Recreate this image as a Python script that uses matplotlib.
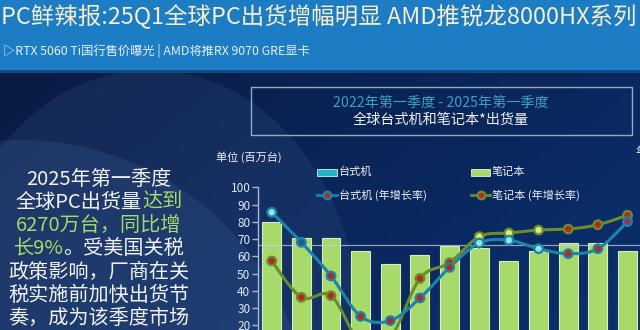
import numpy as np
import matplotlib
matplotlib.use("Agg")
import matplotlib.pyplot as plt
from matplotlib.patches import Rectangle, Ellipse
from matplotlib.lines import Line2D

plt.rcParams['font.family'] = ['Noto Sans CJK SC', 'DejaVu Sans']

# ---------------- data ----------------
quarters = ["22Q1", "22Q2", "22Q3", "22Q4", "23Q1", "23Q2", "23Q3", "23Q4",
            "24Q1", "24Q2", "24Q3", "24Q4", "25Q1"]
notebook = [80.0, 70.4, 70.4, 63.2, 55.7, 60.8, 66.0, 65.0, 57.3, 63.0, 67.9, 67.9, 62.9]
desktop = [16.0, 15.5, 15.5, 15.0, 14.0, 14.5, 15.0, 15.5, 14.0, 14.5, 15.5, 16.0, 15.0]
desktop_growth = [85.5, 68.1, 48.6, 25.2, 22.7, 35.8, 53.6, 67.7, 69.3, 64.4, 61.5, 64.4, 80.1]
notebook_growth = [57.3, 36.2, 37.2, 10.0, 13.0, 47.2, 56.3, 71.4, 73.5, 75.2, 75.8, 78.3, 83.8]
yticks = [20, 30, 40, 50, 60, 70, 80, 90, 100]
ref_line = 66.8

header_title = "PC鲜辣报:25Q1全球PC出货增幅明显 AMD推锐龙8000HX系列"
header_sub = "▷RTX 5060 Ti国行售价曝光 | AMD将推RX 9070 GRE显卡"
chart_title1 = "2022年第一季度 - 2025年第一季度"
chart_title2 = "全球台式机和笔记本*出货量"
unit_label = "单位 (百万台)"
right_label = "年增长率"
legend_labels = ["台式机", "笔记本", "台式机 (年增长率)", "笔记本 (年增长率)"]
left_lines = [
    [("2025年第一季度", "w")],
    [("全球PC出货量", "w"), ("达到", "g")],
    [("6270万台，同比增", "g")],
    [("长9%", "g"), ("。受美国关税", "w")],
    [("政策影响，厂商在关", "w")],
    [("税实施前加快出货节", "w")],
    [("奏，成为该季度市场", "w")],
]

# ---------------- styles ----------------
W, H = 640, 330
BAR_GREEN = "#a7d96b"
DESK_CYAN = "#22b5c8"
BLUE_LINE = "#1a84ad"
OLIVE_LINE = "#6c8c2c"
RED_DOT = "#b42a1e"
desk_faces = ["#8fe6e0", "#1a5f8a", RED_DOT, RED_DOT, RED_DOT, RED_DOT, RED_DOT,
              "#8fe6e0", "#8fe6e0", "#8fe6e0", RED_DOT, RED_DOT, "#a03050"]
note_faces = [RED_DOT] * 7 + ["#d6ee78"] * 3 + [RED_DOT] * 3

fig = plt.figure(figsize=(W / 100, H / 100), dpi=100)

# background axes in pixel coordinates
bg = fig.add_axes([0, 0, 1, 1])
bg.set_xlim(0, W)
bg.set_ylim(H, 0)
bg.axis("off")

# gradient background
gx = np.linspace(0, 1, 64)
gy = np.linspace(0, 1, 32)
GX, GY = np.meshgrid(gx, gy)
c0 = np.array([0x0b, 0x1b, 0x44]) / 255
c1 = np.array([0x0a, 0x30, 0x6e]) / 255
tt = np.clip(0.65 * GX + 0.35 * GY, 0, 1)[..., None]
img = c0 * (1 - tt) + c1 * tt
bg.imshow(img, extent=[0, W, H, 70], aspect="auto", zorder=0)
bg.add_patch(Ellipse((150, 330), 420, 520, facecolor="#3a5a8c", alpha=0.22, lw=0, zorder=1))
bg.add_patch(Ellipse((20, 430), 580, 580, facecolor="#3d5f96", alpha=0.25, lw=0, zorder=1))

# header
bg.add_patch(Rectangle((0, 0), W, 71, facecolor="#1c7dc5", lw=0, zorder=2))
bg.add_patch(Rectangle((0, 70), W, 2.5, facecolor="#0e4c86", lw=0, zorder=2))

renderer = fig.canvas.get_renderer()


def fit_text(x, y, s, target_w, size, **kw):
    t = bg.text(x, y, s, fontsize=size, **kw)
    w = t.get_window_extent(renderer).width
    t.set_fontsize(size * target_w / w)
    return t


fit_text(1, 17, header_title, 635, 17, color="#f7edc8", ha="left", va="center", zorder=3)
fit_text(3, 50.5, header_sub, 307, 9, color="#e8f0fa", ha="left", va="center", zorder=3)

# left text
COL = {"w": "#f2f2f2", "g": "#a6d86c"}
y0 = 179
for i, segs in enumerate(left_lines):
    y = y0 + i * 23.3
    widths = []
    for s, c in segs:
        t = bg.text(0, y, s, fontsize=14.5, color=COL[c], ha="left", va="center")
        widths.append(t.get_window_extent(renderer).width)
        t.remove()
    x = 99 - sum(widths) / 2
    for (s, c), w in zip(segs, widths):
        bg.text(x, y, s, fontsize=14.5, color=COL[c], ha="left", va="center", zorder=3)
        x += w

# chart title box
bg.add_patch(Rectangle((251, 87), 381, 48, facecolor="none", edgecolor="#93aac4", lw=1, zorder=3))
bg.text(441, 103, chart_title1, fontsize=10.2, color="#3aa2c2", ha="center", va="center", zorder=3)
bg.text(441, 120, chart_title2, fontsize=10.2, color="#f2f2f2", ha="center", va="center", zorder=3)
bg.text(216, 157, unit_label, fontsize=8, color="#f0f0f0", ha="left", va="center", zorder=3)
bg.text(635, 152, right_label, fontsize=8, color="#f0f0f0", ha="left", va="center", zorder=3)

# legend (manual)
bg.add_patch(Rectangle((317, 169), 20, 6.5, facecolor=DESK_CYAN, edgecolor="#d0f0f0", lw=0.6, zorder=3))
bg.text(339, 172, legend_labels[0], fontsize=8, color="#f0f0f0", ha="left", va="center", zorder=3)
bg.add_patch(Rectangle((471, 169), 19, 6.5, facecolor=BAR_GREEN, edgecolor="#e0f5c8", lw=0.6, zorder=3))
bg.text(492, 172, legend_labels[1], fontsize=8, color="#f0f0f0", ha="left", va="center", zorder=3)
bg.add_line(Line2D([317, 337], [195, 195], color=BLUE_LINE, lw=2, zorder=3))
bg.add_line(Line2D([327], [195], marker="o", ms=5.5, mfc=RED_DOT, mec=BLUE_LINE, mew=1.6, zorder=4))
bg.text(339, 195, legend_labels[2], fontsize=8, color="#f0f0f0", ha="left", va="center", zorder=3)
bg.add_line(Line2D([471, 490], [195, 195], color=OLIVE_LINE, lw=2, zorder=3))
bg.add_line(Line2D([480.5], [195], marker="o", ms=5.5, mfc=RED_DOT, mec=OLIVE_LINE, mew=1.6, zorder=4))
bg.text(492, 195, legend_labels[3], fontsize=8, color="#f0f0f0", ha="left", va="center", zorder=3)

# ---------------- chart axes ----------------
ax_left, ax_right = 258, 640
ax_top = 187.3
ax = fig.add_axes([ax_left / W, 0, (ax_right - ax_left) / W, (H - ax_top) / H])
ax.set_facecolor("none")
ymin = 100 - (H - ax_top) / 1.725
ax.set_ylim(ymin, 100)
ax.set_xlim(-0.462, 12.42)
x = np.arange(len(quarters))

ax.bar(x, desktop, width=0.64, color=DESK_CYAN, zorder=1)
ax.bar(x, notebook, width=0.64, color=BAR_GREEN, edgecolor="#d8efbd", lw=0.8, zorder=2)
ax.axhline(ref_line, color="#c8d4e4", lw=0.9, alpha=0.7, zorder=3)


def smooth(xs, ys, n=20):
    xs = np.asarray(xs, float)
    ys = np.asarray(ys, float)
    P = np.column_stack([xs, ys])
    P = np.vstack([P[0], P, P[-1]])
    out = []
    for i in range(1, len(P) - 2):
        p0, p1, p2, p3 = P[i - 1], P[i], P[i + 1], P[i + 2]
        t = np.linspace(0, 1, n)[:, None]
        seg = 0.5 * ((2 * p1) + (-p0 + p2) * t + (2 * p0 - 5 * p1 + 4 * p2 - p3) * t ** 2
                     + (-p0 + 3 * p1 - 3 * p2 + p3) * t ** 3)
        out.append(seg)
    out = np.vstack(out)
    return out[:, 0], out[:, 1]


sx, sy = smooth(x, notebook_growth)
ax.plot(sx, sy, color=OLIVE_LINE, lw=2.2, zorder=4)
sx, sy = smooth(x, desktop_growth)
ax.plot(sx, sy, color=BLUE_LINE, lw=2.2, zorder=5)
ax.scatter(x, notebook_growth, s=38, c=note_faces, edgecolors=OLIVE_LINE, linewidths=1.6, zorder=6)
ax.scatter(x, desktop_growth, s=38, c=desk_faces, edgecolors=BLUE_LINE, linewidths=1.6, zorder=7)

ax.set_yticks(yticks)
ax.set_xticks([])
ax.tick_params(axis="y", colors="#aab8cc", labelcolor="#e2e8f0", labelsize=8.5, length=4, width=1, pad=1.5)
for s in ["top", "right", "bottom"]:
    ax.spines[s].set_visible(False)
ax.spines["left"].set_color("#aab8cc")
ax.spines["left"].set_linewidth(1)

fig.savefig("out.png", dpi=100)
